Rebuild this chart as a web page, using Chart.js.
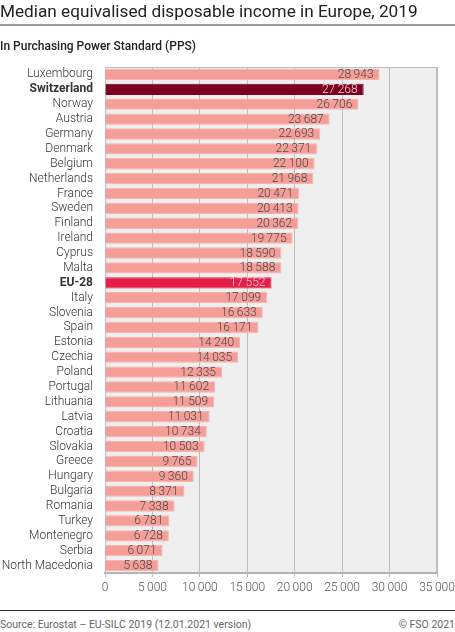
<!DOCTYPE html>
<html lang="en">
<head>
    <meta charset="UTF-8">
    <title>Median equivalised disposable income in Europe, 2019</title>
    <script src="https://cdn.jsdelivr.net/npm/chart.js"></script>
    <style>
        body { margin: 0; background: #fff; font-family: Roboto, sans-serif; }
        #wrap { position: relative; width: 455px; height: 632px; overflow: hidden; }
        #title { position: absolute; left: 0; top: 1px; font-size: 17.2px; color: #222; white-space: nowrap; }
        #rule { position: absolute; left: 0; top: 24px; width: 455px; height: 2px; background: #9a9a9a; }
        #subtitle { position: absolute; left: 0; top: 39px; font-size: 12px; font-weight: 500; color: #222; }
        #chartBox { position: absolute; left: 0; top: 0; width: 455px; height: 600px; }
        #footLine { position: absolute; left: 0; top: 610px; width: 455px; height: 1px; background: #333; }
        #source { position: absolute; left: 0; top: 618px; font-size: 10.5px; color: #666; }
        #copy { position: absolute; right: 0; top: 618px; font-size: 10.5px; color: #666; }
    </style>
</head>
<body>
    <div id="wrap">
        <div id="chartBox"><canvas id="incomeChart"></canvas></div>
        <div id="title">Median equivalised disposable income in Europe, 2019</div>
        <div id="rule"></div>
        <div id="subtitle">In Purchasing Power Standard (PPS)</div>
        <div id="footLine"></div>
        <div id="source">Source: Eurostat – EU-SILC 2019 (12.01.2021 version)</div>
        <div id="copy">© FSO 2021</div>
    </div>

    <script>
        // Data
        const countries = [
            'Luxembourg', 'Switzerland', 'Norway', 'Austria', 'Germany', 'Denmark', 'Belgium',
            'Netherlands', 'France', 'Sweden', 'Finland', 'Ireland', 'Cyprus', 'Malta', 'EU-28',
            'Italy', 'Slovenia', 'Spain', 'Estonia', 'Czechia', 'Poland', 'Portugal', 'Lithuania',
            'Latvia', 'Croatia', 'Slovakia', 'Greece', 'Hungary', 'Bulgaria', 'Romania', 'Turkey',
            'Montenegro', 'Serbia', 'North Macedonia'
        ];
        const incomePPS = [
            28943, 27268, 26706, 23687, 22693, 22371, 22100,
            21968, 20471, 20413, 20362, 19775, 18590, 18588, 17552,
            17099, 16633, 16171, 14240, 14035, 12335, 11602, 11509,
            11031, 10734, 10503, 9765, 9360, 8371, 7338, 6781,
            6728, 6071, 5638
        ];
        const xTicks = [0, 5000, 10000, 15000, 20000, 25000, 30000, 35000];

        // Colours
        const highlight = { 'Switzerland': '#7b0021', 'EU-28': '#e41e46' };
        const barColors = countries.map(c => highlight[c] || '#f59d97');
        const labelColors = countries.map(c => highlight[c] ? '#f3d6da' : '#4a4a4a');

        function fmt(n) {
            return String(n).replace(/\B(?=(\d{3})+(?!\d))/g, '\u2009');
        }

        const plotBg = {
            id: 'plotBg',
            beforeDraw(chart) {
                const { ctx, chartArea: a } = chart;
                ctx.save();
                ctx.fillStyle = '#efefef';
                ctx.fillRect(a.left, a.top, a.right - a.left, a.bottom - a.top);
                ctx.strokeStyle = '#bdbdbd';
                ctx.lineWidth = 1;
                ctx.beginPath();
                ctx.moveTo(a.left, a.top + 0.5);
                ctx.lineTo(a.right - 0.5, a.top + 0.5);
                ctx.lineTo(a.right - 0.5, a.bottom);
                ctx.stroke();
                ctx.restore();
            }
        };

        // value labels inside the bar end
        const barLabels = {
            id: 'barLabels',
            afterDatasetsDraw(chart) {
                const { ctx } = chart;
                const meta = chart.getDatasetMeta(0);
                ctx.save();
                ctx.font = '300 12px Roboto, sans-serif';
                ctx.textAlign = 'right';
                ctx.textBaseline = 'middle';
                meta.data.forEach((bar, i) => {
                    ctx.fillStyle = labelColors[i];
                    ctx.fillText(fmt(incomePPS[i]), bar.x - 6, bar.y + 0.5);
                });
                ctx.restore();
            }
        };

        const ctx = document.getElementById('incomeChart').getContext('2d');
        new Chart(ctx, {
            type: 'bar',
            data: {
                labels: countries,
                datasets: [{
                    data: incomePPS,
                    backgroundColor: barColors,
                    borderColor: countries.map(c => highlight[c] ? highlight[c] : '#f7b3ae'),
                    borderWidth: 1,
                    barPercentage: 0.76,
                    categoryPercentage: 1
                }]
            },
            options: {
                indexAxis: 'y',
                responsive: true,
                maintainAspectRatio: false,
                animation: false,
                layout: { padding: { top: 67, right: 18, left: 0, bottom: 0 } },
                plugins: {
                    legend: { display: false },
                    tooltip: { enabled: false }
                },
                scales: {
                    x: {
                        min: 0,
                        max: 35000,
                        afterBuildTicks(scale) {
                            scale.ticks = xTicks.map(v => ({ value: v }));
                        },
                        afterFit(scale) {
                            scale.height = 27;
                            scale.paddingLeft = 0;
                            scale.paddingRight = 0;
                        },
                        grid: {
                            color: '#bdbdbd',
                            tickLength: 4,
                            drawTicks: true
                        },
                        border: { color: '#b5b5b5', width: 2 },
                        ticks: {
                            color: '#555',
                            padding: 4,
                            maxRotation: 0,
                            font: { family: 'Roboto', size: 12, weight: '300' },
                            callback: v => fmt(v)
                        }
                    },
                    y: {
                        afterFit(scale) { scale.width = 105; },
                        grid: { display: false },
                        border: { color: '#bdbdbd', width: 1 },
                        ticks: {
                            color: '#333',
                            padding: 4,
                            autoSkip: false,
                            font: ctx => ({
                                family: 'Roboto',
                                size: 12,
                                weight: highlight[countries[ctx.index]] ? 'bold' : '300'
                            })
                        }
                    }
                }
            },
            plugins: [plotBg, barLabels]
        });
    </script>
</body>
</html>
